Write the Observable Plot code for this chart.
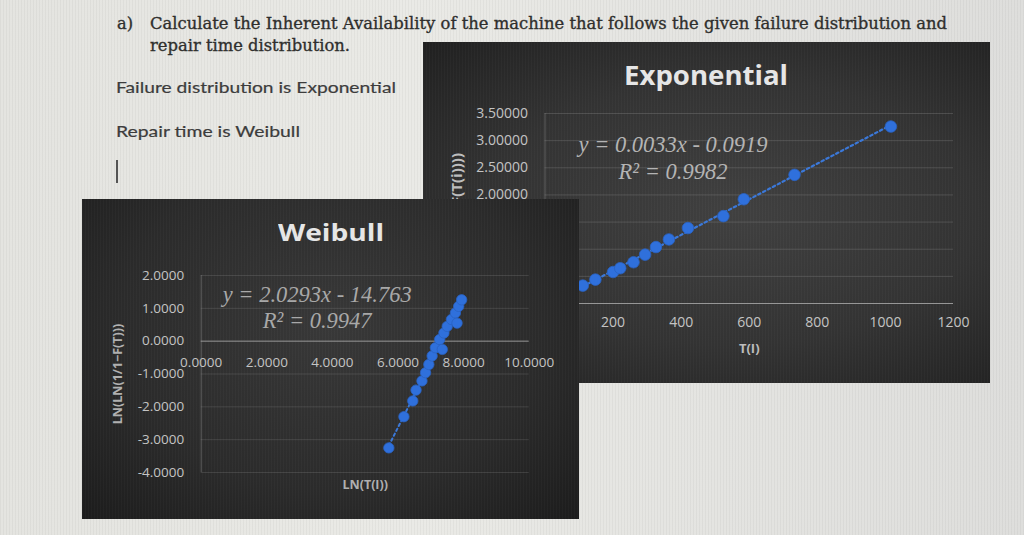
<!DOCTYPE html>
<html>
<head>
<meta charset="utf-8">
<script src="https://cdn.jsdelivr.net/npm/d3@7"></script>
<script src="https://cdn.jsdelivr.net/npm/@observablehq/plot@0.6"></script>
<style>
  html, body { margin: 0; padding: 0; }
  body {
    width: 1024px; height: 535px; overflow: hidden; position: relative;
    background:
      repeating-linear-gradient(90deg, rgba(0,0,0,0.035) 0px, rgba(0,0,0,0.035) 1px, transparent 1px, transparent 3px),
      linear-gradient(90deg, #e4e4e0 0%, #eaeae6 40%, #dededc 100%);
  }
  .txt { position: absolute; white-space: nowrap; transform-origin: left center; display: inline-block; }
  .serif { font-family: "DejaVu Serif", serif; font-size: 17px; color: #2f2f2d; line-height: 1; -webkit-text-stroke: 0.35px #2f2f2d; }
  .sans { font-family: "Lato", sans-serif; font-size: 16px; color: #3c3c3c; line-height: 1; -webkit-text-stroke: 0.2px #3c3c3c; }
  .panel { position: absolute; overflow: hidden; }
  .panel svg { position: absolute; left: 0; top: 0; max-width: none; }
  .ptitle { position: absolute; white-space: nowrap; transform-origin: left center; font-family: "Open Sans", sans-serif; font-weight: 700; color: #e6e6e6; line-height: 1; }
  #exp {
    left: 423px; top: 42px; width: 567px; height: 341px;
    background:
      repeating-linear-gradient(90deg, rgba(255,255,255,0.025) 0px, rgba(255,255,255,0.025) 1px, transparent 1px, transparent 3px),
      radial-gradient(ellipse at 55% 50%, #404040 0%, #333 55%, #202020 100%);
  }
  #wb {
    left: 82px; top: 199px; width: 497px; height: 320px;
    background:
      repeating-linear-gradient(90deg, rgba(255,255,255,0.025) 0px, rgba(255,255,255,0.025) 1px, transparent 1px, transparent 3px),
      radial-gradient(ellipse at 50% 40%, #383838 0%, #2b2b2b 60%, #1c1c1c 100%);
  }
  #cursor { position: absolute; left: 116px; top: 160px; width: 2px; height: 23px; background: #555; }
</style>
</head>
<body>
<span class="txt serif" id="l1a" style="left:117px; top:15px;">a)</span>
<span class="txt serif" id="l1" style="left:150px; top:15px;">Calculate the Inherent Availability of the machine that follows the given failure distribution and</span>
<span class="txt serif" id="l2" style="left:150px; top:37px;">repair time distribution.</span>
<span class="txt sans" id="s1" style="left:116px; top:79px;">Failure distribution is Exponential</span>
<span class="txt sans" id="s2" style="left:116px; top:123px;">Repair time is Weibull</span>
<div id="cursor"></div>

<div class="panel" id="exp"><div class="ptitle" id="expTitle" style="font-size:26px;"></div></div>
<div class="panel" id="wb"><div class="ptitle" id="wbTitle" style="font-size:24px;"></div></div>

<script>
// ---- Exponential chart data (failure times) ----
const expT = [111, 148, 200, 221, 260, 294, 326, 364, 420, 524, 584, 733, 1016];
const expF = [0.33, 0.44, 0.58, 0.65, 0.76, 0.90, 1.04, 1.18, 1.39, 1.61, 1.92, 2.37, 3.26];
const expXTicks = [0, 200, 400, 600, 800, 1000, 1200];
const expYTicks = [0, 0.5, 1, 1.5, 2, 2.5, 3, 3.5];
const expEquation = ["y = 0.0033x - 0.0919", "R² = 0.9982"];
const expTitle = "Exponential";
const expXLabel = "T(I)";
const expYLabel = "LN(1/(1-F(T(i))))";

// ---- Weibull chart data (repair times) ----
const wbLnT = [5.72, 6.18, 6.45, 6.55, 6.73, 6.84, 6.94, 7.04, 7.14, 7.27, 7.35, 7.40, 7.50, 7.63, 7.75, 7.80, 7.85, 7.94];
const wbLnLn = [-3.25, -2.30, -1.82, -1.49, -1.21, -0.96, -0.71, -0.45, -0.20, 0.05, -0.25, 0.25, 0.45, 0.66, 0.86, 0.55, 1.06, 1.26];
const wbXTicks = [0, 2, 4, 6, 8, 10];
const wbYTicks = [-4, -3, -2, -1, 0, 1, 2];
const wbEquation = ["y = 2.0293x - 14.763", "R² = 0.9947"];
const wbTitle = "Weibull";
const wbXLabel = "LN(T(I))";
const wbYLabel = "LN(LN(1/1−F(T)))";

const expData = expT.map((t, i) => ({t, f: expF[i]}));
const wbData = wbLnT.map((x, i) => ({x, y: wbLnLn[i]}));

const BLUE = "#2f70dc";
const TREND = "#3b78d8";
const EQFONT = "Liberation Serif, serif";

const expPlot = Plot.plot({
  width: 567, height: 341,
  marginLeft: 121.5, marginRight: 37, marginTop: 71, marginBottom: 80,
  x: {domain: [0, 1200], axis: null},
  y: {domain: [0, 3.5], axis: null},
  style: {background: "transparent", color: "#c4c4c4", fontFamily: "Open Sans, sans-serif", fontSize: "14px", overflow: "visible"},
  marks: [
    Plot.gridY(expYTicks, {stroke: "#9a9a9a", strokeOpacity: 0.28}),
    Plot.ruleX([0], {stroke: "#9a9a9a", strokeOpacity: 0.4}),
    Plot.ruleY([0], {stroke: "#a8a8a8", strokeOpacity: 0.8}),
    Plot.axisX({ticks: expXTicks, tickSize: 0, tickPadding: 14, tickFormat: d => String(d), label: null, fill: "#c4c4c4"}),
    Plot.axisY({ticks: expYTicks, tickSize: 0, tickPadding: 17, tickFormat: d => d.toFixed(5), label: null, fill: "#c4c4c4"}),
    Plot.linearRegressionY(expData, {x: "t", y: "f", ci: 0, stroke: TREND, strokeWidth: 2.2, strokeDasharray: "2.5,3"}),
    Plot.dot(expData, {x: "t", y: "f", r: 5.8, fill: BLUE, stroke: "#2a62c2", strokeWidth: 0.8}),
    Plot.text([expEquation.join("\n")], {frameAnchor: "top-left", dx: 128, dy: 43, text: d => d, textAnchor: "middle", lineAnchor: "middle", lineHeight: 1.2, fontFamily: EQFONT, fontStyle: "italic", fontSize: 22.5, fill: "#b4b4b4"}),
    Plot.text([expYLabel], {frameAnchor: "left", dx: -88, rotate: -90, textAnchor: "middle", text: d => d, fontWeight: "bold", fontSize: 15, fill: "#bdbdbd"}),
    Plot.text([expXLabel], {frameAnchor: "bottom", dy: 49, textAnchor: "middle", text: d => d, fontWeight: "bold", fontSize: 13, fill: "#bdbdbd"})
  ]
});
document.getElementById("exp").appendChild(expPlot);

const wbPlot = Plot.plot({
  width: 497, height: 320,
  marginLeft: 118.7, marginRight: 50.3, marginTop: 76, marginBottom: 47,
  x: {domain: [0, 10], axis: null},
  y: {domain: [-4, 2], axis: null},
  style: {background: "transparent", color: "#c4c4c4", fontFamily: "Open Sans, sans-serif", fontSize: "13.5px", overflow: "visible"},
  marks: [
    Plot.gridY(wbYTicks, {stroke: "#9a9a9a", strokeOpacity: 0.22}),
    Plot.ruleX([0], {stroke: "#9a9a9a", strokeOpacity: 0.45}),
    Plot.ruleY([0], {stroke: "#a8a8a8", strokeOpacity: 0.75}),
    Plot.axisY({ticks: wbYTicks, tickSize: 0, tickPadding: 17, tickFormat: d => d.toFixed(4), label: null, fill: "#c4c4c4"}),
    Plot.text(wbXTicks, {x: d => d, y: 0, dy: 22, text: d => d.toFixed(4), fill: "#c4c4c4"}),
    Plot.linearRegressionY(wbData, {x: "x", y: "y", ci: 0, stroke: TREND, strokeWidth: 2, strokeDasharray: "2.5,3"}),
    Plot.dot(wbData, {x: "x", y: "y", r: 5.2, fill: BLUE, stroke: "#2a62c2", strokeWidth: 0.8}),
    Plot.text([wbEquation.join("\n")], {frameAnchor: "top-left", dx: 116, dy: 31, text: d => d, textAnchor: "middle", lineAnchor: "middle", lineHeight: 1.15, fontFamily: EQFONT, fontStyle: "italic", fontSize: 22.5, fill: "#a8a8a8"}),
    Plot.text([wbYLabel], {frameAnchor: "left", dx: -83, rotate: -90, textAnchor: "middle", text: d => d, fontWeight: "bold", fontSize: 12.5, fill: "#b0b0b0"}),
    Plot.text([wbXLabel], {frameAnchor: "bottom", dy: 16, textAnchor: "middle", text: d => d, fontWeight: "bold", fontSize: 12.5, fill: "#b0b0b0"})
  ]
});
document.getElementById("wb").appendChild(wbPlot);

// Titles and page text: set text and fit widths to the photographed layout
document.getElementById("expTitle").textContent = expTitle;
document.getElementById("wbTitle").textContent = wbTitle;

function fitText(id, width, centerX, centerY) {
  const el = document.getElementById(id);
  const r = el.getBoundingClientRect();
  const s = width / r.width;
  if (centerX !== undefined) {
    el.style.left = (centerX - width / 2) + "px";
    el.style.top = (centerY - r.height / 2) + "px";
  }
  el.style.transform = `scaleX(${s})`;
}
fitText("expTitle", 164, 283, 33);
fitText("wbTitle", 106, 249, 33);
fitText("l1a", 16);
fitText("l1", 797);
fitText("l2", 200);
fitText("s1", 280);
fitText("s2", 184);
</script>
</body>
</html>
